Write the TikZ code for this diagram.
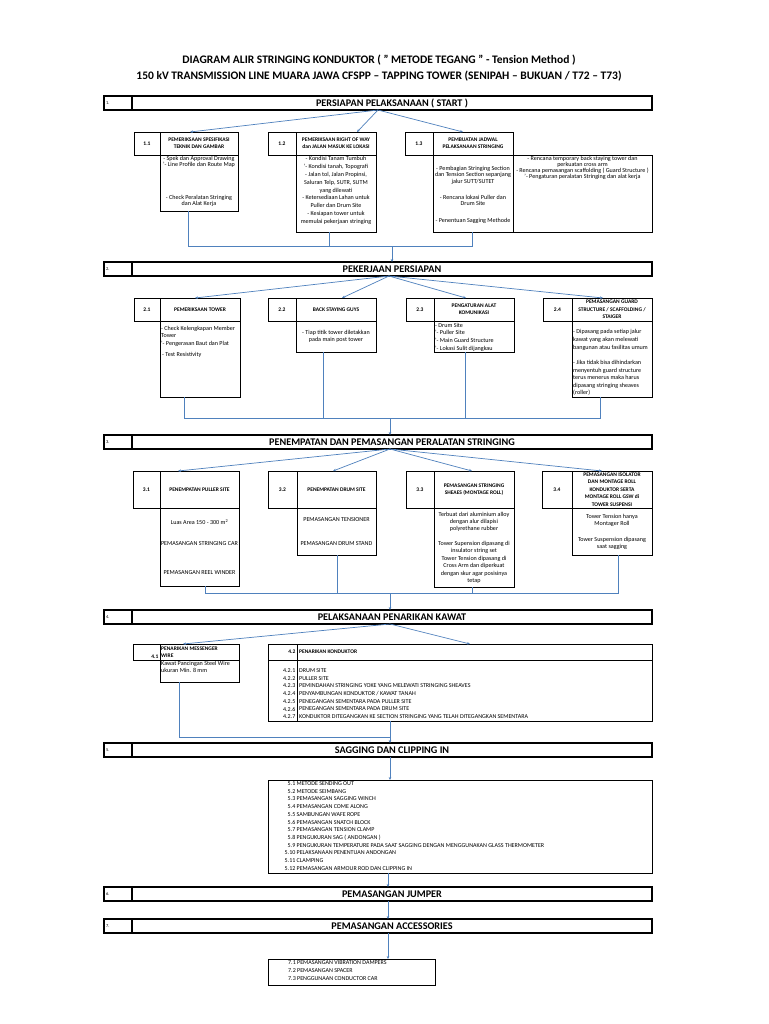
\documentclass[tikz,border=0pt]{standalone}
\usepackage{fontspec}
\setmainfont{Carlito}
\usetikzlibrary{arrows.meta}
\definecolor{lnk}{RGB}{79,129,189}
\newcommand\mkcell[6]{\node[#1, minimum width={(#4-#2)*1pt}, minimum height={(#5-#3)*1pt}] (#6) at (#2,#3) {};}
\newcommand\mkhdr[5]{%
  \mkcell{hcell}{104}{#2}{132}{#3}{#1n}
  \node[hcell, htxt, minimum width=520pt, minimum height={(#3-#2)*1pt}] (#1) at (132,#2) {#5};
  \node[hnum] (#1l) at (106,{(#2+#3)/2}) {#4};
}
\begin{document}
\begin{tikzpicture}[x=1pt,y=-1pt,
  cell/.style={draw=black, line width=0.9pt, inner sep=0pt, outer sep=0pt, anchor=north west},
  hcell/.style={draw=black, line width=1.5pt, inner sep=0pt, outer sep=0pt, anchor=north west},
  conn/.style={draw=lnk, line width=0.7pt},
  arr/.style={conn, -{Stealth[length=3pt,width=2.6pt]}},
  ttl/.style={font=\fontsize{11.5}{13}\bfseries\selectfont, inner sep=0pt},
  htxt/.style={font=\fontsize{10.2}{11}\bfseries\selectfont},
  hnum/.style={font=\fontsize{4.5}{5}\selectfont, inner sep=0pt, anchor=west},
  bt/.style={font=\fontsize{5.5}{#1}\bfseries\selectfont, inner sep=0pt, align=center},
  bt/.default=7,
  bx/.style={font=\fontsize{6.1}{#1}\selectfont, inner sep=0pt, align=center, anchor=north},
  bx/.default=6.5,
  bl/.style={font=\fontsize{6.1}{#1}\selectfont, inner sep=0pt, align=left, anchor=north west},
  bl/.default=7.5,
  it/.style={font=\fontsize{6}{6}\selectfont, inner sep=0pt},
]
\useasboundingbox (0,0) rectangle (768,1024);
\fill[white] (0,0) rectangle (768,1024);

% ---------- title ----------
\node[ttl] (title1) at (379,60) {DIAGRAM ALIR STRINGING KONDUKTOR ( " METODE TEGANG " - Tension Method )};
\node[ttl] (title2) at (379,76) {150 kV TRANSMISSION LINE MUARA JAWA CFSPP – TAPPING TOWER (SENIPAH – BUKUAN / T72 – T73)};

% ---------- headers ----------
\mkhdr{h1}{96}{110}{1.}{PERSIAPAN PELAKSANAAN ( START )}
\mkhdr{h2}{262}{276}{2.}{PEKERJAAN PERSIAPAN}
\mkhdr{h3}{435}{449}{3.}{PENEMPATAN DAN PEMASANGAN PERALATAN STRINGING}
\mkhdr{h4}{610}{624}{4.}{PELAKSANAAN PENARIKAN KAWAT}
\mkhdr{h5}{743}{757}{5.}{SAGGING DAN CLIPPING IN}
\mkhdr{h6}{887}{901}{6.}{PEMASANGAN JUMPER}
\mkhdr{h7}{919}{933}{7.}{PEMASANGAN ACCESSORIES}

% ---------- section 1 ----------
\mkcell{cell}{134}{132}{160}{155}{n11}
\node[bt] (n11t) at (n11) {1.1};
\mkcell{cell}{160}{132}{238}{155}{t11}
\node[bt] (t11t) at (t11) {PEMERIKSAAN SPESIFIKASI\\TEKNIK DAN GAMBAR};
\mkcell{cell}{160}{155}{238}{211}{b11}
\node[bx] (b11a) at (199,156) {- Spek dan Approval Drawing\\'- Line Profile dan Route Map};
\node[bx] (b11b) at (199,195) {- Check Peralatan Stringing\\dan Alat Kerja};

\mkcell{cell}{268}{132}{296}{155}{n12}
\node[bt] (n12t) at (n12) {1.2};
\mkcell{cell}{296}{132}{376}{155}{t12}
\node[bt] (t12t) at (t12) {PEMERIKSAAN RIGHT OF WAY\\dan JALAN MASUK KE LOKASI};
\mkcell{cell}{296}{155}{376}{232}{b12}
\node[bx=7.9] (b12a) at (336,156) {- Kondisi Tanam Tumbuh\\'- Kondisi tanah, Topografi\\- Jalan tol, Jalan Propinsi,\\Saluran Telp, SUTR, SUTM\\yang dilewati\\- Ketersediaan Lahan untuk\\Puller dan Drum Site\\- Kesiapan tower untuk\\memulai pekerjaan stringing};

\mkcell{cell}{405}{132}{433}{155}{n13}
\node[bt] (n13t) at (n13) {1.3};
\mkcell{cell}{433}{132}{513}{155}{t13}
\node[bt] (t13t) at (t13) {PEMBUATAN JADWAL\\PELAKSANAAN STRINGING};
\mkcell{cell}{433}{155}{513}{232}{b13}
\node[bx] (b13a) at (473,166) {- Pembagian Stringing Section\\dan Tension Section sepanjang\\jalur SUTT/SUTET};
\node[bx] (b13b) at (473,195) {- Rencana lokasi Puller dan\\Drum Site};
\node[bx] (b13c) at (473,218) {- Penentuan Sagging Methode};
\mkcell{cell}{513}{155}{652}{232}{e13}
\node[bx=5.9] (e13a) at (582.5,156) {- Rencana temporary back staying tower dan\\perkuatan cross arm\\- Rencana pemasangan scaffolding ( Guard Structure )\\'- Pengaturan peralatan Stringing dan alat kerja};

\draw[arr] ([xshift=-14pt]h1.south) -- ([xshift=-9pt]t11.north);
\draw[arr] ([xshift=-14pt]h1.south) -- ([xshift=21pt]t12.north);
\draw[arr] ([xshift=-14pt]h1.south) -- ([xshift=-10pt]t13.north);
\coordinate (j1a) at (188,246);
\coordinate (j1b) at (329,246);
\coordinate (j1c) at (472,246);
\coordinate (j1m) at (392,246);
\draw[conn] (b11.south -| j1a) -- (j1a) -- (j1c) -- (b13.south -| j1c);
\draw[conn] (b12.south -| j1b) -- (j1b);
\draw[arr] (j1m) -- (h2.north -| j1m);

% ---------- section 2 ----------
\mkcell{cell}{134}{298}{160}{321}{n21}
\node[bt] (n21t) at (n21) {2.1};
\mkcell{cell}{160}{298}{240}{321}{t21}
\node[bt] (t21t) at (t21) {PEMERIKSAAN TOWER};
\mkcell{cell}{160}{321}{240}{397}{b21}
\node[bl] (b21a) at (161,326) {- Check Kelengkapan Member\\Tower\\'- Pengerasan Baut dan Plat};
\node[bl] (b21b) at (162,352) {- Test Resistivity};

\mkcell{cell}{268}{298}{296}{321}{n22}
\node[bt] (n22t) at (n22) {2.2};
\mkcell{cell}{296}{298}{376}{321}{t22}
\node[bt] (t22t) at (t22) {BACK STAYING GUYS};
\mkcell{cell}{296}{321}{376}{352}{b22}
\node[bx=7] (b22a) at (336,330) {- Tiap titik tower diletakkan\\pada main post tower};

\mkcell{cell}{406}{298}{434}{321}{n23}
\node[bt] (n23t) at (n23) {2.3};
\mkcell{cell}{434}{298}{514}{321}{t23}
\node[bt] (t23t) at (t23) {PENGATURAN ALAT\\KOMUNIKASI};
\mkcell{cell}{434}{321}{514}{352}{b23}
\node[bl=7.6] (b23a) at (435,323) {- Drum Site\\'- Puller Site\\'- Main Guard Structure\\'- Lokasi Sulit dijangkau};

\mkcell{cell}{543}{298}{572}{321}{n24}
\node[bt] (n24t) at (n24) {2.4};
\mkcell{cell}{572}{298}{652}{321}{t24}
\node[bt=7.5] (t24t) at (t24) {PEMASANGAN GUARD\\STRUCTURE / SCAFFOLDING /\\STAIGER};
\mkcell{cell}{572}{321}{652}{397}{b24}
\node[bl=7.9] (b24a) at (573,329) {- Dipasang pada setiap jalur\\kawat yang akan melewati\\bangunan atau fasilitas umum};
\node[bl=7.6] (b24b) at (573,360) {- Jika tidak bisa dihindarkan\\menyentuh guard structure\\terus menerus maka harus\\dipasang stringing sheaves\\(roller)};

\draw[arr] ([xshift=-3pt]h2.south) -- ([xshift=-5pt]t21.north);
\draw[arr] ([xshift=-3pt]h2.south) -- ([xshift=6pt]t22.north);
\draw[arr] ([xshift=-3pt]h2.south) -- ([xshift=-8pt]t23.north);
\draw[arr] ([xshift=-3pt]h2.south) -- ([xshift=-9pt]t24.north);
\coordinate (j2a) at (184,418);
\coordinate (j2b) at (323,418);
\coordinate (j2c) at (465,418);
\coordinate (j2d) at (600,418);
\coordinate (j2m) at (390,418);
\draw[conn] (b21.south -| j2a) -- (j2a) -- (j2d) -- (b24.south -| j2d);
\draw[conn] (b22.south -| j2b) -- (j2b);
\draw[conn] (b23.south -| j2c) -- (j2c);
\draw[arr] (j2m) -- (h3.north -| j2m);

% ---------- section 3 ----------
\mkcell{cell}{133}{471}{160}{508}{n31}
\node[bt] (n31t) at (n31) {3.1};
\mkcell{cell}{160}{471}{239}{508}{t31}
\node[bt] (t31t) at (t31) {PENEMPATAN PULLER SITE};
\mkcell{cell}{160}{508}{239}{586}{b31}
\node[bx] (b31a) at (199.5,519.5) {Luas Area 150 - 300 m\textsuperscript{2}};
\node[bx] (b31b) at (199.5,541) {PEMASANGAN STRINGING CAR};
\node[bx] (b31c) at (199.5,570) {PEMASANGAN REEL WINDER};

\mkcell{cell}{268}{471}{297}{508}{n32}
\node[bt] (n32t) at (n32) {3.2};
\mkcell{cell}{297}{471}{376}{508}{t32}
\node[bt] (t32t) at (t32) {PENEMPATAN DRUM SITE};
\mkcell{cell}{297}{508}{376}{555}{b32}
\node[bx] (b32a) at (336.5,517) {PEMASANGAN TENSIONER};
\node[bx] (b32b) at (336.5,541) {PEMASANGAN DRUM STAND};

\mkcell{cell}{406}{471}{434}{508}{n33}
\node[bt] (n33t) at (n33) {3.3};
\mkcell{cell}{434}{471}{514}{508}{t33}
\node[bt=7.3] (t33t) at (t33) {PEMASANGAN STRINGING\\SHEAES (MONTAGE ROLL)};
\mkcell{cell}{434}{508}{514}{587}{b33}
\node[bx=7] (b33a) at (474,512) {Terbuat dari aluminium alloy\\dengan alur dilapisi\\polyrethane rubber};
\node[bx=7.4] (b33b) at (474,541) {Tower Supension dipasang di\\insulator string set\\Tower Tension dipasang di\\Cross Arm dan diperkuat\\dengan skur agar posisinya\\tetap};

\mkcell{cell}{542}{471}{572}{508}{n34}
\node[bt] (n34t) at (n34) {3.4};
\mkcell{cell}{572}{471}{652}{508}{t34}
\node[bt=7.6] (t34t) at (t34) {PEMASANGAN ISOLATOR\\DAN MONTAGE ROLL\\KONDUKTOR SERTA\\MONTAGE ROLL GSW di\\TOWER SUSPENSI};
\mkcell{cell}{572}{508}{652}{555}{b34}
\node[bx=7] (b34a) at (612,514) {Tower Tension hanya\\Montager Roll};
\node[bx=7.5] (b34b) at (612,537) {Tower Suspension dipasang\\saat sagging};

\draw[arr] ([xshift=-2pt]h3.south) -- ([xshift=-21.5pt]t31.north);
\draw[arr] ([xshift=-2pt]h3.south) -- ([xshift=-3.5pt]t32.north);
\draw[arr] ([xshift=-2pt]h3.south) -- ([xshift=-2pt]t33.north);
\draw[arr] ([xshift=-2pt]h3.south) -- ([xshift=-10pt]t34.north);
\coordinate (j3a) at (205,593);
\coordinate (j3b) at (337,593);
\coordinate (j3c) at (472,593);
\coordinate (j3d) at (618,593);
\coordinate (j3m) at (390,593);
\draw[conn] (b31.south -| j3a) -- (j3a) -- (j3d) -- (b34.south -| j3d);
\draw[conn] (b32.south -| j3b) -- (j3b);
\draw[conn] (b33.south -| j3c) -- (j3c);
\draw[arr] (j3m) -- (h4.north -| j3m);

% ---------- section 4 ----------
\mkcell{cell}{133}{644}{160}{660}{n41}
\node[bt, anchor=east] (n41t) at (158.5,656.5) {4.1};
\mkcell{cell}{160}{644}{239}{660}{t41}
\node[bt=7.5, align=left, anchor=north west] (t41t) at (161,646.2) {PENARIKAN MESSENGER\\WIRE};
\mkcell{cell}{160}{660}{239}{682}{b41}
\node[bl=7] (b41a) at (161,661.3) {Kawat Pancingan Steel Wire\\ukuran Min. 8 mm};

\mkcell{cell}{268}{644}{297}{660}{n42}
\node[bt, anchor=east] (n42t) at (295.5,652) {4.2};
\mkcell{cell}{297}{644}{652}{660}{t42}
\node[bt, anchor=west] (t42t) at (299,652) {PENARIKAN KONDUKTOR};
\mkcell{cell}{268}{660}{297}{721}{bn42}
\mkcell{cell}{297}{660}{652}{721}{b42}
\foreach \t [count=\k] in {{DRUM SITE},{PULLER SITE},{PEMINDAHAN STRINGING YOKE YANG MELEWATI STRINGING SHEAVES},{PENYAMBUNGAN KONDUKTOR / KAWAT TANAH},{PENEGANGAN SEMENTARA PADA PULLER SITE},{PENEGANGAN SEMENTARA PADA DRUM SITE},{KONDUKTOR DITEGANGKAN KE SECTION STRINGING YANG TELAH DITEGANGKAN SEMENTARA}}{
  \node[it, anchor=east] (i42n\k) at (295.5,{670.5+7.7*(\k-1)}) {4.2.\k};
  \node[it, anchor=west] (i42t\k) at (299,{670.5+7.7*(\k-1)}) {\t};
}

\draw[arr] ([xshift=-2pt]h4.south) -- ([xshift=-16.5pt]t41.north);
\draw[arr] ([xshift=-2pt]h4.south) -- ([xshift=-4.5pt]t42.north);
\coordinate (j4a) at (179,737);
\coordinate (j4m) at (390,737);
\draw[conn] (b41.south -| j4a) -- (j4a) -- (j4m);
\draw[arr] (b42.south -| j4m) -- (h5.north -| j4m);

% ---------- section 5 ----------
\mkcell{cell}{268}{780}{652}{873}{b5}
\foreach \t [count=\k] in {{5.1 METODE SENDING OUT},{5.2 METODE SEIMBANG},{5.3 PEMASANGAN SAGGING WINCH},{5.4 PEMASANGAN COME ALONG},{5.5 SAMBUNGAN WAFE ROPE},{5.6 PEMASANGAN SNATCH BLOCK},{5.7 PEMASANGAN TENSION CLAMP},{5.8 PENGUKURAN SAG ( ANDONGAN )},{5.9 PENGUKURAN TEMPERATURE PADA SAAT SAGGING DENGAN MENGGUNAKAN GLASS THERMOMETER}}{
  \node[it, anchor=west] (i5\k) at (287.5,{783.5+7.7*(\k-1)}) {\t};
}
\foreach \t [count=\k from 10] in {{5.10 PELAKSANAAN PENENTUAN ANDONGAN},{5.11 CLAMPING},{5.12 PEMASANGAN ARMOUR ROD DAN CLIPPING IN}}{
  \node[it, anchor=west] (i5\k) at (284.5,{783.5+7.7*(\k-1)}) {\t};
}
\coordinate (v390) at (390,0);
\coordinate (v388) at (388,0);
\draw[arr] (h5.south -| v390) -- (b5.north -| v390);
\draw[arr] (b5.south -| v388) -- (h6.north -| v388);

% ---------- sections 6, 7 ----------
\draw[arr] (h6.south -| v388) -- (h7.north -| v388);
\mkcell{cell}{268}{959}{435}{985}{b7}
\foreach \t [count=\k] in {{7.1 PEMASANGAN VIBRATION DAMPERS},{7.2 PEMASANGAN SPACER},{7.3 PENGGUNAAN CONDUCTOR CAR}}{
  \node[it, anchor=west] (i7\k) at (288,{963+8*(\k-1)}) {\t};
}
\draw[arr] (h7.south -| v388) -- (b7.north -| v388);
\end{tikzpicture}
\end{document}
